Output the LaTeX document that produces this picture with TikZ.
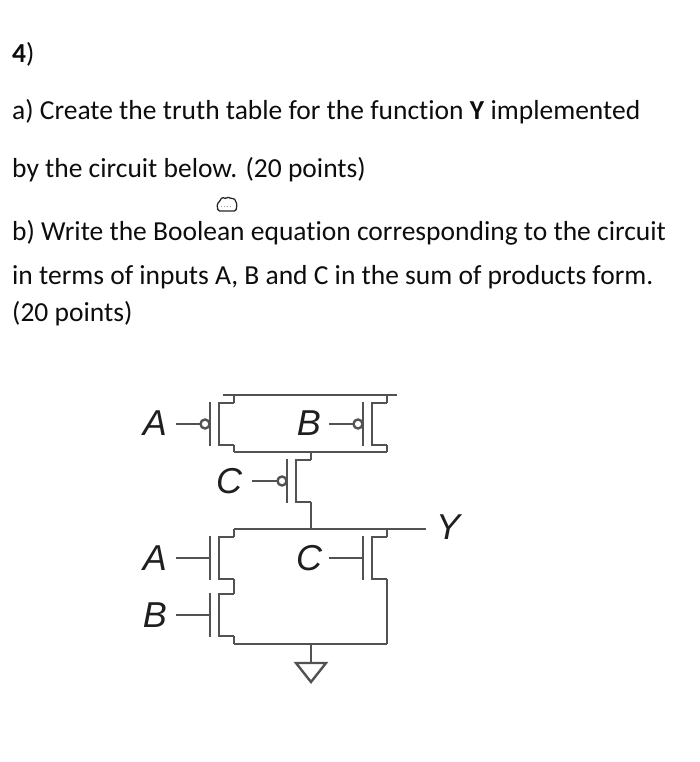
\documentclass[tikz,border=0pt]{standalone}
\usepackage{fontspec}
\setmainfont{Carlito}[Ligatures=NoCommon]
\newfontfamily\labelfont{Liberation Sans}
\usetikzlibrary{positioning}

\begin{document}
\begin{tikzpicture}[x=1pt, y=-1pt, >=latex,
    wire/.style={line width=2.4pt, color=black!68},
    txt/.style={anchor=base west, inner sep=0pt, color=black!95, font=\fontsize{27.5}{30}\selectfont},
    sig/.style={anchor=center, inner sep=0pt, color=black!88, font=\labelfont\itshape\fontsize{36}{40}\selectfont}]
    \useasboundingbox (0,0) rectangle (700,762);
    % =========================
    \node[txt] (qnum) at (12,63) {\textbf{4})};
    \node[txt] (linea) at (12,120) {a) Create the truth table for the function \textbf{Y} implemented};
    \node[txt] (lineb) at (12,178) {by the circuit below. (20 points)};
    \node[txt] (linec) at (12,240) {b) Write the Boolean equation corresponding to the circuit};
    \node[txt] (lined) at (12,284) {in terms of inputs A, B and C in the sum of products form.};
    \node[txt] (linee) at (12,321) {(20 points)};
    % small cursor mark
    \draw[line width=1.3pt, color=black!85, rounded corners=1.5pt] (218,211) -- (217,204) -- (220,201) -- (222,197) -- (226,199) -- (228,196.5) -- (231,199) -- (234,198) -- (237,204) -- (236,211) -- cycle;
    \draw[line width=1pt, color=black!40, dotted] (221,206) -- (233,206);
    % ===============================
    % gate x / gate y / name
    \foreach \x/\y/\name in {210/424/pA, 363/424/pB, 287/481/pC, 210/558/nA, 210/615/nB, 363/558/nC} {
        \coordinate (\name g) at (\x,\y);
        \coordinate (\name d) at (\x+24,\y-21);
        \coordinate (\name s) at (\x+24,\y+21);
        \draw[wire] (\x,\y-22) -- (\x,\y+22);
        \draw[wire] (\name d) -- (\x+9,\y-21) -- (\x+9,\y+21) -- (\name s);
    }
    % ===============================
    \node[sig] (A1) at (155,423) {A};
    \node[sig] (B1) at (309,423) {B};
    \node[sig] (C1) at (229,481) {C};
    \node[sig] (A2) at (155,558) {A};
    \node[sig] (B2) at (155,615) {B};
    \node[sig] (C2) at (309,558) {C};
    \node[sig] (Y) at (448,527) {Y};

    \foreach \gate/\lx in {pA/176, pB/329, pC/252} {
        \draw[wire] (\gate g) ++(-5,0) circle (4.5);
        \draw[wire] (\gate g) ++(-9.5,0) -- (\lx,0 |- \gate g);
    }
    \foreach \gate/\lx in {nA/176, nB/176, nC/329}
        \draw[wire] (\gate g) -- (\lx,0 |- \gate g);

    % rails
    \coordinate (top) at (311,395);
    \coordinate (mid) at (311,452);
    \coordinate (out) at (311,529);
    \coordinate (low) at (311,644);
    \coordinate (gnd) at (311,663);
    \draw[wire] (223,395) -- (397,395);
    \draw[wire] (pAs |- mid) -- (pBs |- mid);
    \draw[wire] (nAd |- out) -- (426,529);
    \draw[wire] (nBs |- low) -- (nCs |- low);
    \draw[wire] (pAd) -- (pAd |- top);
    \draw[wire] (pAs) -- (pAs |- mid);
    \draw[wire] (pBd) -- (pBd |- top);
    \draw[wire] (pBs) -- (pBs |- mid);
    \draw[wire] (nAd) -- (nAd |- out);
    \draw[wire] (nAs) -- (nBd);
    \draw[wire] (nBs) -- (nBs |- low);
    \draw[wire] (nCd) -- (nCd |- out);
    \draw[wire] (nCs) -- (nCs |- low);
    \draw[wire] (pCd) -- (pCd |- mid);
    \draw[wire] (pCs) -- (pCs |- out);
    \draw[wire] (low) -- (gnd);
    \draw[wire] (296,663) -- (326,663) -- (311,682) -- cycle;
\end{tikzpicture}
\end{document}
